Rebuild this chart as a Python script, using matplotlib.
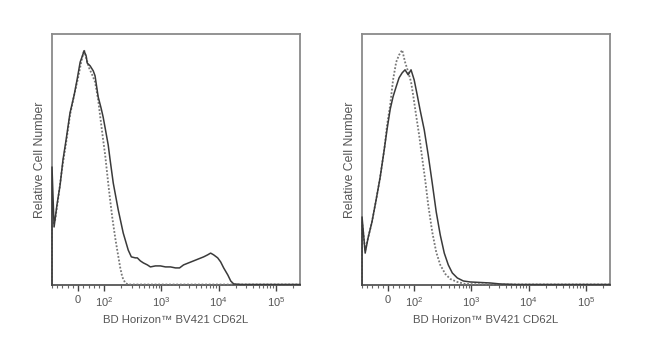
import numpy as np
import matplotlib
matplotlib.use("Agg")
import matplotlib.pyplot as plt
from matplotlib.ticker import FixedLocator, FixedFormatter

plt.rcParams['font.family'] = ['Liberation Sans', 'DejaVu Sans']
plt.rcParams['mathtext.fontset'] = 'custom'
plt.rcParams['mathtext.rm'] = 'Liberation Sans'
plt.rcParams['mathtext.it'] = 'Liberation Sans'

# ── DATA (fluorescence value, relative count) ───────────────────────────────
# left panel: stained (solid) and isotype control (dotted)
left_solid_x = [-100, -100, -92, -81, -69, -58, -46, -31, -15, -4, 8, 15, 23, 31, 35, 46, 58,
                65, 77, 88, 96, 104, 117.5, 127, 144, 176, 215, 263, 298, 350, 379, 428, 483,
                568, 641, 785, 961, 1175, 1438, 1760, 2070, 2430, 2970, 3640, 4450, 5450,
                6400, 7220, 8160, 9590, 10800, 12200, 14400, 16200, 18300, 25000, 262144]
left_solid_y = [0.0, 47.0, 23.1, 31.9, 39.8, 49.8, 57.8, 68.5, 75.7, 81.7, 88.8, 90.8, 93.2,
                91.2, 88.4, 87.3, 85.3, 83.3, 74.9, 70.5, 66.9, 62.5, 55.8, 49.8, 40.6, 29.9,
                20.7, 13.9, 11.2, 10.8, 10.8, 9.6, 8.8, 8.0, 7.2, 7.6, 7.6, 7.2, 7.2, 6.8,
                6.8, 8.0, 8.8, 9.6, 10.4, 11.2, 12.0, 12.7, 12.0, 10.8, 9.2, 6.8, 4.0, 1.6,
                0.4, 0.2, 0.2]
left_ctrl_x = [-100, -100, -88, -77, -62, -46, -31, -15, 0, 12, 23, 31, 42, 54, 65, 77, 85,
               96, 104, 117.5, 127, 138, 156, 169, 191, 207, 233, 263, 1000, 262144]
left_ctrl_y = [0.0, 23.1, 25.9, 33.9, 45.8, 56.6, 67.7, 75.7, 82.5, 88.8, 93.6, 90.4, 86.5,
               83.7, 80.9, 73.7, 66.9, 57.8, 51.8, 40.6, 33.9, 27.1, 18.7, 13.9, 6.8, 3.2,
               0.8, 0.2, 0.2, 0.2]

# right panel
right_solid_x = [-100, -100, -88, -77, -62, -46, -31, -15, -4, 8, 19, 31, 42, 54, 65, 77, 88,
                 100, 113, 127, 150, 176, 207, 243, 286, 336, 395, 464, 568, 724, 961, 1438,
                 2150, 3220, 6000, 262144]
right_solid_y = [0.0, 27.1, 12.7, 18.7, 25.1, 33.9, 42.6, 53.8, 62.0, 70.0, 75.0, 79.0,
                 82.5, 84.5, 85.7, 83.7, 85.7, 81.7, 75.7, 69.7, 61.8, 51.8, 40.6, 29.1,
                 19.9, 12.7, 8.0, 4.8, 2.8, 1.6, 1.2, 1.0, 0.8, 0.4, 0.2, 0.2]
right_ctrl_x = [-100, -100, -88, -77, -62, -46, -31, -15, -4, 8, 19, 31, 42, 54, 65, 77, 88,
                96, 108, 122, 138, 156, 176, 207, 243, 286, 350, 428, 568, 785, 2000, 262144]
right_ctrl_y = [0.0, 25.0, 13.9, 18.7, 25.1, 33.9, 42.6, 53.8, 63.7, 71.7, 81.7, 88.8, 91.6,
                93.6, 88.8, 84.9, 80.9, 75.7, 67.7, 59.8, 50.6, 41.8, 31.9, 21.1, 13.1, 8.0,
                4.4, 2.4, 1.2, 0.4, 0.2, 0.2]

tick_vals   = [0, 100, 1000, 10000, 100000]
tick_labels = ["0", r"$10^2$", r"$10^3$", r"$10^4$", r"$10^5$"]
x_label = "BD Horizon\u2122 BV421 CD62L"
y_label = "Relative Cell Number"

# ── FIGURE ──────────────────────────────────────────────────────────────────
fig = plt.figure(figsize=(6.5, 3.57), dpi=100)
frame_c = "#8a8a8a"
text_c = "#555555"

panels = [
    ([0.080, 0.2017, 0.3815, 0.7033], left_solid_x, left_solid_y, left_ctrl_x, left_ctrl_y),
    ([0.557, 0.2017, 0.381, 0.7033], right_solid_x, right_solid_y, right_ctrl_x, right_ctrl_y),
]

minor = list(range(-100, 100, 20)) + [m * 10 ** d for d in range(2, 6) for m in range(2, 10)
                                      if m * 10 ** d < 262144]

for rect, sx, sy, cx, cy in panels:
    ax = fig.add_axes(rect)
    ax.set_xscale('symlog', linthresh=100, linscale=0.41)
    ax.plot(cx, cy, color="#777777", lw=1.3, ls=(0, (1, 1)), zorder=3, clip_on=False)
    ax.plot(sx, sy, color="#3a3a3a", lw=1.1, zorder=3, clip_on=False)
    ax.set_xlim(-100, 262144)
    ax.set_ylim(0, 100)

    for s in ax.spines.values():
        s.set_color(frame_c)
        s.set_linewidth(1.3)
    ax.spines['bottom'].set_color("#555555")

    ax.xaxis.set_major_locator(FixedLocator(tick_vals))
    ax.xaxis.set_major_formatter(FixedFormatter(tick_labels))
    ax.xaxis.set_minor_locator(FixedLocator(minor))
    ax.tick_params(axis='x', which='major', direction='out', length=4, width=1.0,
                   color="#444444", labelsize=8, labelcolor=text_c, pad=3)
    ax.tick_params(axis='x', which='minor', direction='out', length=2.5, width=0.8,
                   color="#666666")
    ax.set_yticks([])
    ax.set_xlabel(x_label, fontsize=8.2, color=text_c, labelpad=5)
    ax.set_ylabel(y_label, fontsize=8.8, color=text_c, labelpad=4)

plt.savefig("out.png", dpi=100)
